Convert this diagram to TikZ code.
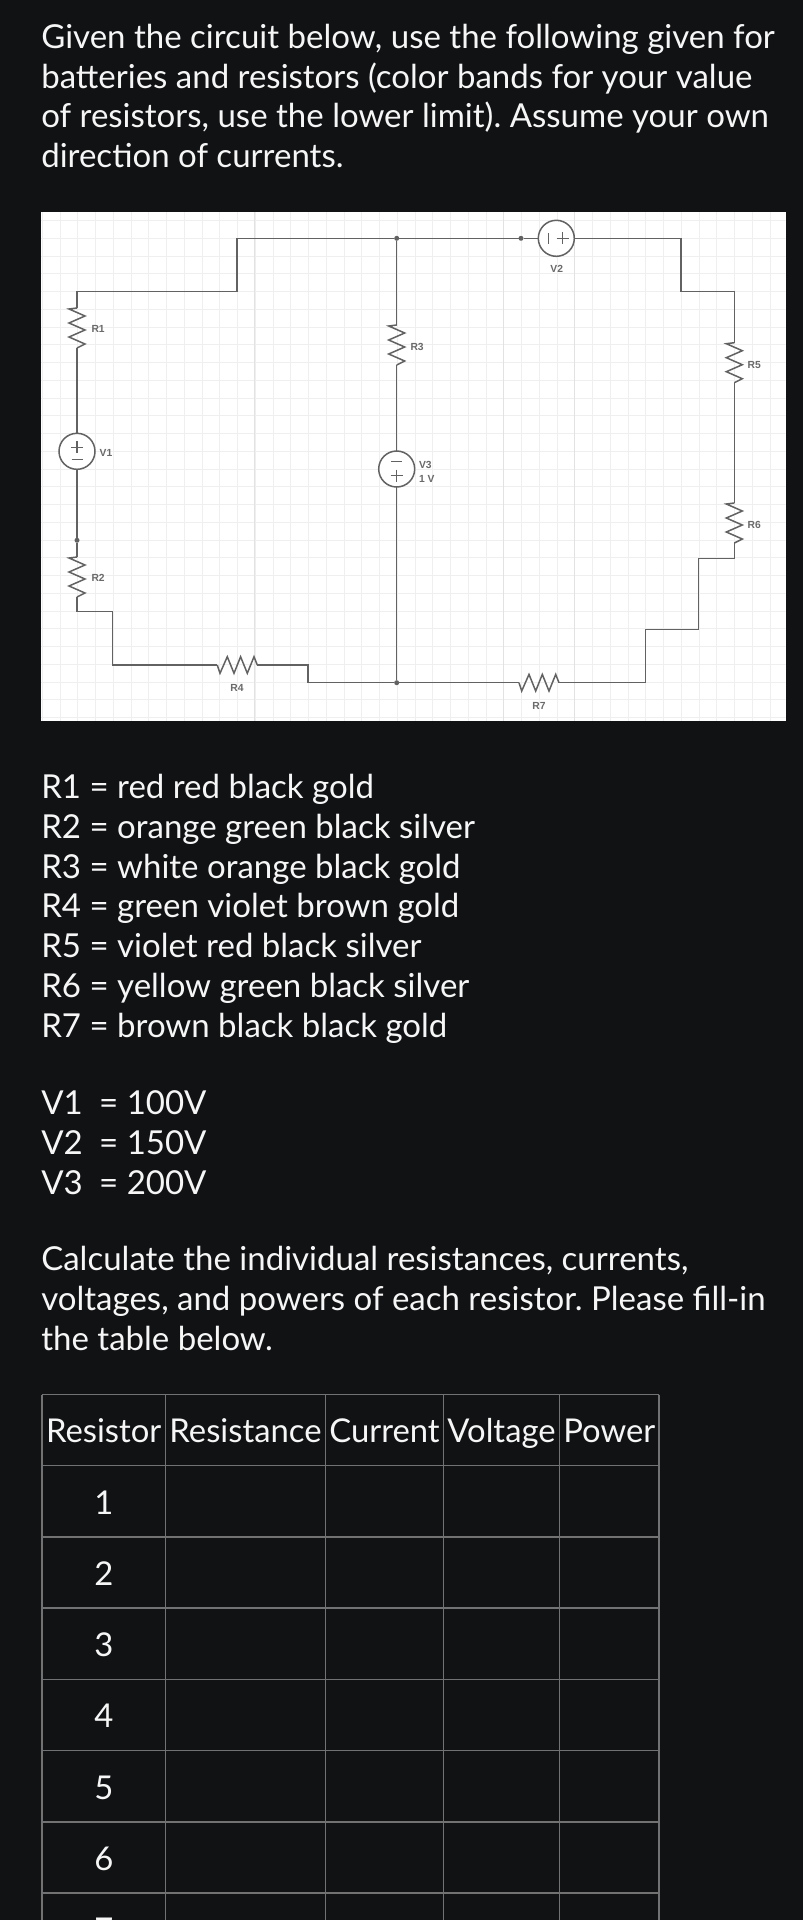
\documentclass[tikz,border=0pt]{standalone}
\usepackage{fontspec}
\setmainfont{Lato}
\newfontfamily\arial{Liberation Sans}
\frenchspacing
\definecolor{bgdark}{HTML}{101214}
\definecolor{inkwhite}{HTML}{F6F6F6}
\definecolor{tabline}{HTML}{727272}
\definecolor{wirecol}{HTML}{626262}
\definecolor{gridmin}{HTML}{EFEFEF}
\definecolor{gridmaj}{HTML}{E2E2E2}
\definecolor{labcol}{HTML}{6A6A6A}
\tikzset{
  x=1bp,y=-1bp,
  txt/.style={anchor=base west,inner sep=0pt,outer sep=0pt,text=inkwhite,font=\frenchspacing\fontsize{33bp}{40bp}\selectfont},
  celltxt/.style={anchor=base,inner sep=0pt,outer sep=0pt,text=inkwhite,font=\fontsize{32.8bp}{40bp}\selectfont},
  wire/.style={draw=wirecol,line width=1.5bp,line join=miter},
  tab/.style={draw=tabline,line width=1.5bp},
  lab/.style={anchor=base west,inner sep=0pt,outer sep=0pt,text=labcol,font=\arial\bfseries\fontsize{10.3bp}{12bp}\selectfont},
  labc/.style={lab,anchor=base},
  src/.style={circle,draw=wirecol,line width=1.5bp,fill=white,minimum size=36bp,inner sep=0pt,outer sep=0pt},
  jdot/.style={circle,fill=wirecol,minimum size=5bp,inner sep=0pt,outer sep=0pt},
}
\newcommand{\ResV}[1]{%
  \draw[wire] (#1) -- ++(-8,1) -- ++(16,7) -- ++(-16,7) -- ++(16,7) -- ++(-16,7) -- ++(16,7) -- ++(-8,4);}
\newcommand{\ResH}[1]{%
  \draw[wire] (#1) -- ++(2.7,8.3) -- ++(7.3,-16.6) -- ++(6.7,16.6) -- ++(6.6,-16.6) -- ++(6.7,16.6) -- ++(6.7,-16.6) -- ++(3.3,8.3);}
\begin{document}
\begin{tikzpicture}
\useasboundingbox (0,0) rectangle (803,1920);
\fill[bgdark] (0,0) rectangle (803,1920);
% header text
\node[txt] (t1) at (41.3,48.3) {Given the circuit below, use the following given for};
\node[txt] (t2) at (41.3,88) {batteries and resistors (color bands for your value};
\node[txt] (t3) at (41.3,127.7) {of resistors, use the lower limit). Assume your own};
\node[txt] (t4) at (41.3,167.7) {direction of currents.};
% panel
\fill[white] (41,212) rectangle (785.7,721);
\begin{scope}
\clip (41,212) rectangle (785.7,721);
\foreach \i in {-2,...,40} {\draw[gridmin,line width=.9bp] ({77.7+17.75*\i},212) -- ({77.7+17.75*\i},721);}
\foreach \i in {-2,...,30} {\draw[gridmin,line width=.9bp] (41,{238.3+17.75*\i}) -- (785.7,{238.3+17.75*\i});}
\foreach \x in {254.3,503,574} {\draw[gridmaj,line width=.9bp] (\x,212) -- (\x,721);}
\end{scope}
% circuit anchors
\coordinate (r1t) at (77,308);
\coordinate (r1b) at (77,348);
\coordinate (r2t) at (77,557);
\coordinate (r2b) at (77,597);
\coordinate (r3t) at (396.7,325);
\coordinate (r3b) at (396.7,365);
\coordinate (r4l) at (217.3,665);
\coordinate (r4r) at (257.3,665);
\coordinate (r5t) at (734.3,342.7);
\coordinate (r5b) at (734.3,382.7);
\coordinate (r6t) at (734.3,503);
\coordinate (r6b) at (734.3,543);
\coordinate (r7l) at (519,682.7);
\coordinate (r7r) at (559,682.7);
\node[src] (v1) at (77,451.3) {};
\node[src] (v3) at (396.7,469) {};
\node[src] (v2) at (556.3,238.3) {};
\node[jdot] (jtop) at (396.7,238.3) {};
\node[jdot] (jv2) at (521,238.3) {};
\node[jdot] (jl) at (77,540.3) {};
\node[jdot] (jbot) at (396.7,682.7) {};
% wires
\draw[wire] (r1t) |- (237,291.3) |- (jtop) -- (jv2) -- (v2);
\draw[wire] (v2) -- (681,238.3) |- (734.3,291.3) -- (r5t);
\draw[wire] (r5b) -- (r6t);
\draw[wire] (r6b) |- (698.3,558.3) |- (645.3,629.3) |- (r7r);
\draw[wire] (r7l) -- (jbot) -- (308,682.7) |- (r4r);
\draw[wire] (r4l) -- (112.7,665) |- (77,611.7) -- (r2b);
\draw[wire] (r2t) -- (jl) -- (v1);
\draw[wire] (v1) -- (r1b);
\draw[wire] (jtop) -- (r3t);
\draw[wire] (r3b) -- (v3);
\draw[wire] (v3) -- (jbot);
\ResV{r1t}\ResV{r2t}\ResV{r3t}\ResV{r5t}\ResV{r6t}
\ResH{r4l}\ResH{r7l}
% source symbols
\draw[wire,line width=1.1bp] (71,447.3) -- (83,447.3) (77,441.3) -- (77,453.3) (71.5,459.5) -- (82.5,459.5);
\draw[wire,line width=1.1bp] (391.2,461.7) -- (402.2,461.7) (390.7,475.5) -- (402.7,475.5) (396.7,469.5) -- (396.7,481.5);
\draw[wire,line width=1.1bp] (548.5,233) -- (548.5,244) (556.5,238.3) -- (568.5,238.3) (562.5,232.3) -- (562.5,244.3);
% labels
\node[lab] (lr1) at (91.5,332.5) {R1};
\node[lab] (lv1) at (99.7,456) {V1};
\node[lab] (lr2) at (91.5,581.5) {R2};
\node[lab] (lr3) at (410.5,350) {R3};
\node[lab] (lv3) at (419,468) {V3};
\node[lab] (lv31) at (419,482) {1 V};
\node[labc] (lv2) at (556.7,272) {V2};
\node[lab] (lr5) at (747.7,368) {R5};
\node[lab] (lr6) at (747.7,528.3) {R6};
\node[labc] (lr4) at (237,691) {R4};
\node[labc] (lr7) at (539,709) {R7};
% colour bands
\node[txt] (c1) at (41.3,798.3) {R1 = red red black gold};
\node[txt] (c2) at (41.3,838) {R2 = orange green black silver};
\node[txt] (c3) at (41.3,878) {R3 = white orange black gold};
\node[txt] (c4) at (41.3,917.7) {R4 = green violet brown gold};
\node[txt] (c5) at (41.3,957.3) {R5 = violet red black silver};
\node[txt] (c6) at (41.3,997.3) {R6 = yellow green black silver};
\node[txt] (c7) at (41.3,1037) {R7 = brown black black gold};
% voltages
\node[txt] (v1t) at (41.3,1114.3) {V1\hspace{8bp} = 100V};
\node[txt] (v2t) at (41.3,1154.3) {V2\hspace{8bp} = 150V};
\node[txt] (v3t) at (41.3,1194.3) {V3\hspace{8bp} = 200V};
% calculate
\node[txt] (k1) at (41.3,1270.7) {Calculate the individual resistances, currents,};
\node[txt] (k2) at (41.3,1310.7) {voltages, and powers of each resistor. Please fill-in};
\node[txt] (k3) at (41.3,1350) {the table below.};
% table
\begin{scope}
\clip (0,0) rectangle (803,1920);
\foreach \x in {42,165.4,325.7,443.4,559.7,659} {\draw[tab] (\x,1394.5) -- (\x,1925);}
\foreach \y in {1394.5,1465.7,1537,1608.2,1679.4,1750.6,1821.8,1893} {\draw[tab] (42,\y) -- (659,\y);}
\node[celltxt] (h1) at (103.7,1442) {Resistor};
\node[celltxt] (h2) at (245.5,1442) {Resistance};
\node[celltxt] (h3) at (384.5,1442) {Current};
\node[celltxt] (h4) at (501.5,1442) {Voltage};
\node[celltxt] (h5) at (609.3,1442) {Power};
\node[celltxt] (n1) at (104,1514) {1};
\node[celltxt] (n2) at (104,1585) {2};
\node[celltxt] (n3) at (104,1656.5) {3};
\node[celltxt] (n4) at (104,1727.5) {4};
\node[celltxt] (n5) at (104,1799) {5};
\node[celltxt] (n6) at (104,1870) {6};
\node[celltxt] (n7) at (104,1941) {7};
\end{scope}
\end{tikzpicture}
\end{document}
